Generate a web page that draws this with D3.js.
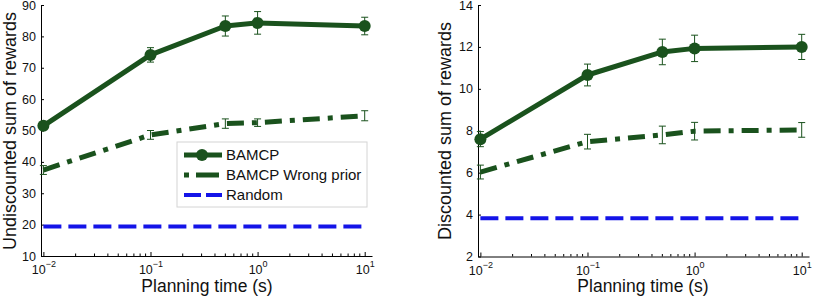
<!DOCTYPE html>
<html>
<head>
<meta charset="utf-8">
<script src="https://cdnjs.cloudflare.com/ajax/libs/d3/7.8.5/d3.min.js"></script>
<style>
  body { margin: 0; background: #fff; }
  svg { display: block; font-family: "Liberation Sans", Arial, sans-serif; }
  .axisLb { font-size: 18px; fill: #111; text-anchor: middle; }
  .tick text { font-size: 12.5px; fill: #111; font-family: "Liberation Sans", Arial, sans-serif; }
</style>
</head>
<body>
<div id="main"></div>
<script>
// planning times (s)
const times = [0.01, 0.1, 0.5, 1, 10];

// left panel: undiscounted sum of rewards
const undiscBamcp = [51.5, 74.1, 83.3, 84.3, 83.3];
const undiscBamcpErr = [1.2, 2.3, 3.2, 3.6, 2.8];
const undiscWrong = [37.4, 48.6, 52.2, 52.5, 54.7];
const undiscWrongErr = [1.4, 1.4, 1.5, 1.2, 1.6];
const undiscRandom = 19.4;
const undiscTicks = [10, 20, 30, 40, 50, 60, 70, 80, 90];

// right panel: discounted sum of rewards
const discBamcp = [7.6, 10.66, 11.76, 11.93, 12.0];
const discBamcpErr = [0.36, 0.52, 0.61, 0.63, 0.6];
const discWrong = [6.03, 7.48, 7.8, 7.98, 8.04];
const discWrongErr = [0.33, 0.35, 0.42, 0.42, 0.35];
const discRandom = 3.82;
const discTicks = [2, 4, 6, 8, 10, 12, 14];

const xMajor = [0.01, 0.1, 1, 10];
const xExp = ["\u22122", "\u22121", "0", "1"];
const seriesNames = ["BAMCP", "BAMCP Wrong prior", "Random"];

const ctx = {
    w: 813,
    h: 298,
    GREEN: "#1a521d",
    BLUE: "#1414e8",
    xDomain: [0.0095, 11.7],
};

function minorTicks(){
    let res = [];
    [0.01, 0.1, 1].forEach(function(b){
        for (let k = 2; k <= 9; k++) res.push(b*k);
    });
    return res;
}

function drawPanel(g, opt){
    let xScale = d3.scaleLog().domain(ctx.xDomain).range(opt.xRange);
    let yScale = d3.scaleLinear().domain(opt.yDomain).range(opt.yRange);

    // x axis, ticks pointing inward
    let xAx = g.append("g")
      .attr("transform", `translate(0,${opt.yRange[0]})`)
      .call(d3.axisBottom(xScale).tickValues(xMajor).tickSize(-4)
              .tickSizeOuter(0).tickFormat(() => ""));
    xAx.selectAll(".tick text").remove();
    xAx.selectAll(".tick").append("text")
      .attr("y", 18)
      .attr("fill", "#111")
      .style("text-anchor", "middle")
      .each(function(d, i){
          let t = d3.select(this);
          t.append("tspan").text("10");
          t.append("tspan").attr("dy", -7).style("font-size", "9px").text(xExp[i]);
      });
    // minor ticks
    xAx.selectAll(".minor")
      .data(minorTicks())
      .enter()
      .append("line")
      .attr("x1", (d) => xScale(d))
      .attr("x2", (d) => xScale(d))
      .attr("y1", 0)
      .attr("y2", -2.5)
      .attr("stroke", "#000");

    // y axis
    g.append("g")
      .attr("transform", `translate(${opt.xRange[0]},0)`)
      .call(d3.axisLeft(yScale).tickValues(opt.yTicks).tickSize(-3)
              .tickSizeOuter(0).tickPadding(5));

    g.selectAll(".domain").attr("stroke", "#000");
    g.selectAll(".tick line").attr("stroke", "#000");

    // axis labels
    g.append("text")
      .classed("axisLb", true)
      .attr("x", opt.xLabelX)
      .attr("y", 292)
      .style("font-size", "17.5px")
      .text("Planning time (s)");
    g.append("text")
      .classed("axisLb", true)
      .attr("transform", `translate(${opt.yLabelX},${opt.yLabelY}) rotate(-90)`)
      .text(opt.yLabel);

    // random baseline
    let lineGen = d3.line().x((d) => xScale(d[0])).y((d) => yScale(d[1]));
    g.append("path")
      .attr("d", lineGen([[times[0], opt.random], [times[times.length-1], opt.random]]))
      .attr("fill", "none")
      .attr("stroke", ctx.BLUE)
      .attr("stroke-width", 4)
      .attr("stroke-dasharray", "18,7");

    // error bars for both BAMCP series
    [[opt.wrong, opt.wrongErr], [opt.bamcp, opt.bamcpErr]].forEach(function(s){
        let eb = g.append("g").attr("stroke", ctx.GREEN).attr("stroke-width", 1);
        times.forEach(function(t, i){
            let x = xScale(t), y0 = yScale(s[0][i] - s[1][i]), y1 = yScale(s[0][i] + s[1][i]);
            eb.append("line").attr("x1", x).attr("x2", x).attr("y1", y0).attr("y2", y1);
            eb.append("line").attr("x1", x-3.5).attr("x2", x+3.5).attr("y1", y0).attr("y2", y0);
            eb.append("line").attr("x1", x-3.5).attr("x2", x+3.5).attr("y1", y1).attr("y2", y1);
        });
    });

    // wrong prior: dash-dot
    g.append("path")
      .attr("d", lineGen(times.map((t, i) => [t, opt.wrong[i]])))
      .attr("fill", "none")
      .attr("stroke", ctx.GREEN)
      .attr("stroke-width", 5)
      .attr("stroke-dasharray", "17,8,5,8");

    // BAMCP solid line with circle markers
    g.append("path")
      .attr("d", lineGen(times.map((t, i) => [t, opt.bamcp[i]])))
      .attr("fill", "none")
      .attr("stroke", ctx.GREEN)
      .attr("stroke-width", 5)
      .attr("stroke-linejoin", "round");
    g.selectAll(".mk")
      .data(times)
      .enter()
      .append("circle")
      .attr("cx", (d) => xScale(d))
      .attr("cy", (d, i) => yScale(opt.bamcp[i]))
      .attr("r", 6)
      .attr("fill", ctx.GREEN);
}

function drawLegend(g){
    g.append("rect")
      .attr("x", 177).attr("y", 142)
      .attr("width", 190).attr("height", 65)
      .attr("fill", "#fff")
      .attr("stroke", "#d4d4d4");
    let styles = [
        {stroke: ctx.GREEN, w: 5, dash: null, marker: true},
        {stroke: ctx.GREEN, w: 5, dash: "5,7,23,100", marker: false},
        {stroke: ctx.BLUE, w: 4, dash: "17,5", marker: false},
    ];
    seriesNames.forEach(function(name, i){
        let y = 155 + i*20;
        let s = styles[i];
        let ln = g.append("line")
          .attr("x1", 184).attr("x2", 222)
          .attr("y1", y).attr("y2", y)
          .attr("stroke", s.stroke)
          .attr("stroke-width", s.w);
        if (s.dash) ln.attr("stroke-dasharray", s.dash);
        if (s.marker) g.append("circle").attr("cx", 202).attr("cy", y).attr("r", 6).attr("fill", s.stroke);
        g.append("text")
          .attr("x", 226).attr("y", y)
          .attr("dy", "0.36em")
          .style("font-size", "15px")
          .attr("fill", "#111")
          .text(name);
    });
}

function createViz(){
    let svgEl = d3.select("#main").append("svg")
      .attr("width", ctx.w)
      .attr("height", ctx.h);
    let leftG = svgEl.append("g").attr("id", "leftG");
    let rightG = svgEl.append("g").attr("id", "rightG");
    drawPanel(leftG, {
        xRange: [41, 372], yDomain: [10, 90], yRange: [256, 5], yTicks: undiscTicks,
        bamcp: undiscBamcp, bamcpErr: undiscBamcpErr,
        wrong: undiscWrong, wrongErr: undiscWrongErr, random: undiscRandom,
        xLabelX: 207, yLabelX: 16, yLabelY: 131,
        yLabel: "Undiscounted sum of rewards",
    });
    drawLegend(leftG);
    drawPanel(rightG, {
        xRange: [478, 809], yDomain: [2, 14], yRange: [256.5, 5], yTicks: discTicks,
        bamcp: discBamcp, bamcpErr: discBamcpErr,
        wrong: discWrong, wrongErr: discWrongErr, random: discRandom,
        xLabelX: 643, yLabelX: 451, yLabelY: 131,
        yLabel: "Discounted sum of rewards",
    });
}

createViz();
</script>
</body>
</html>
